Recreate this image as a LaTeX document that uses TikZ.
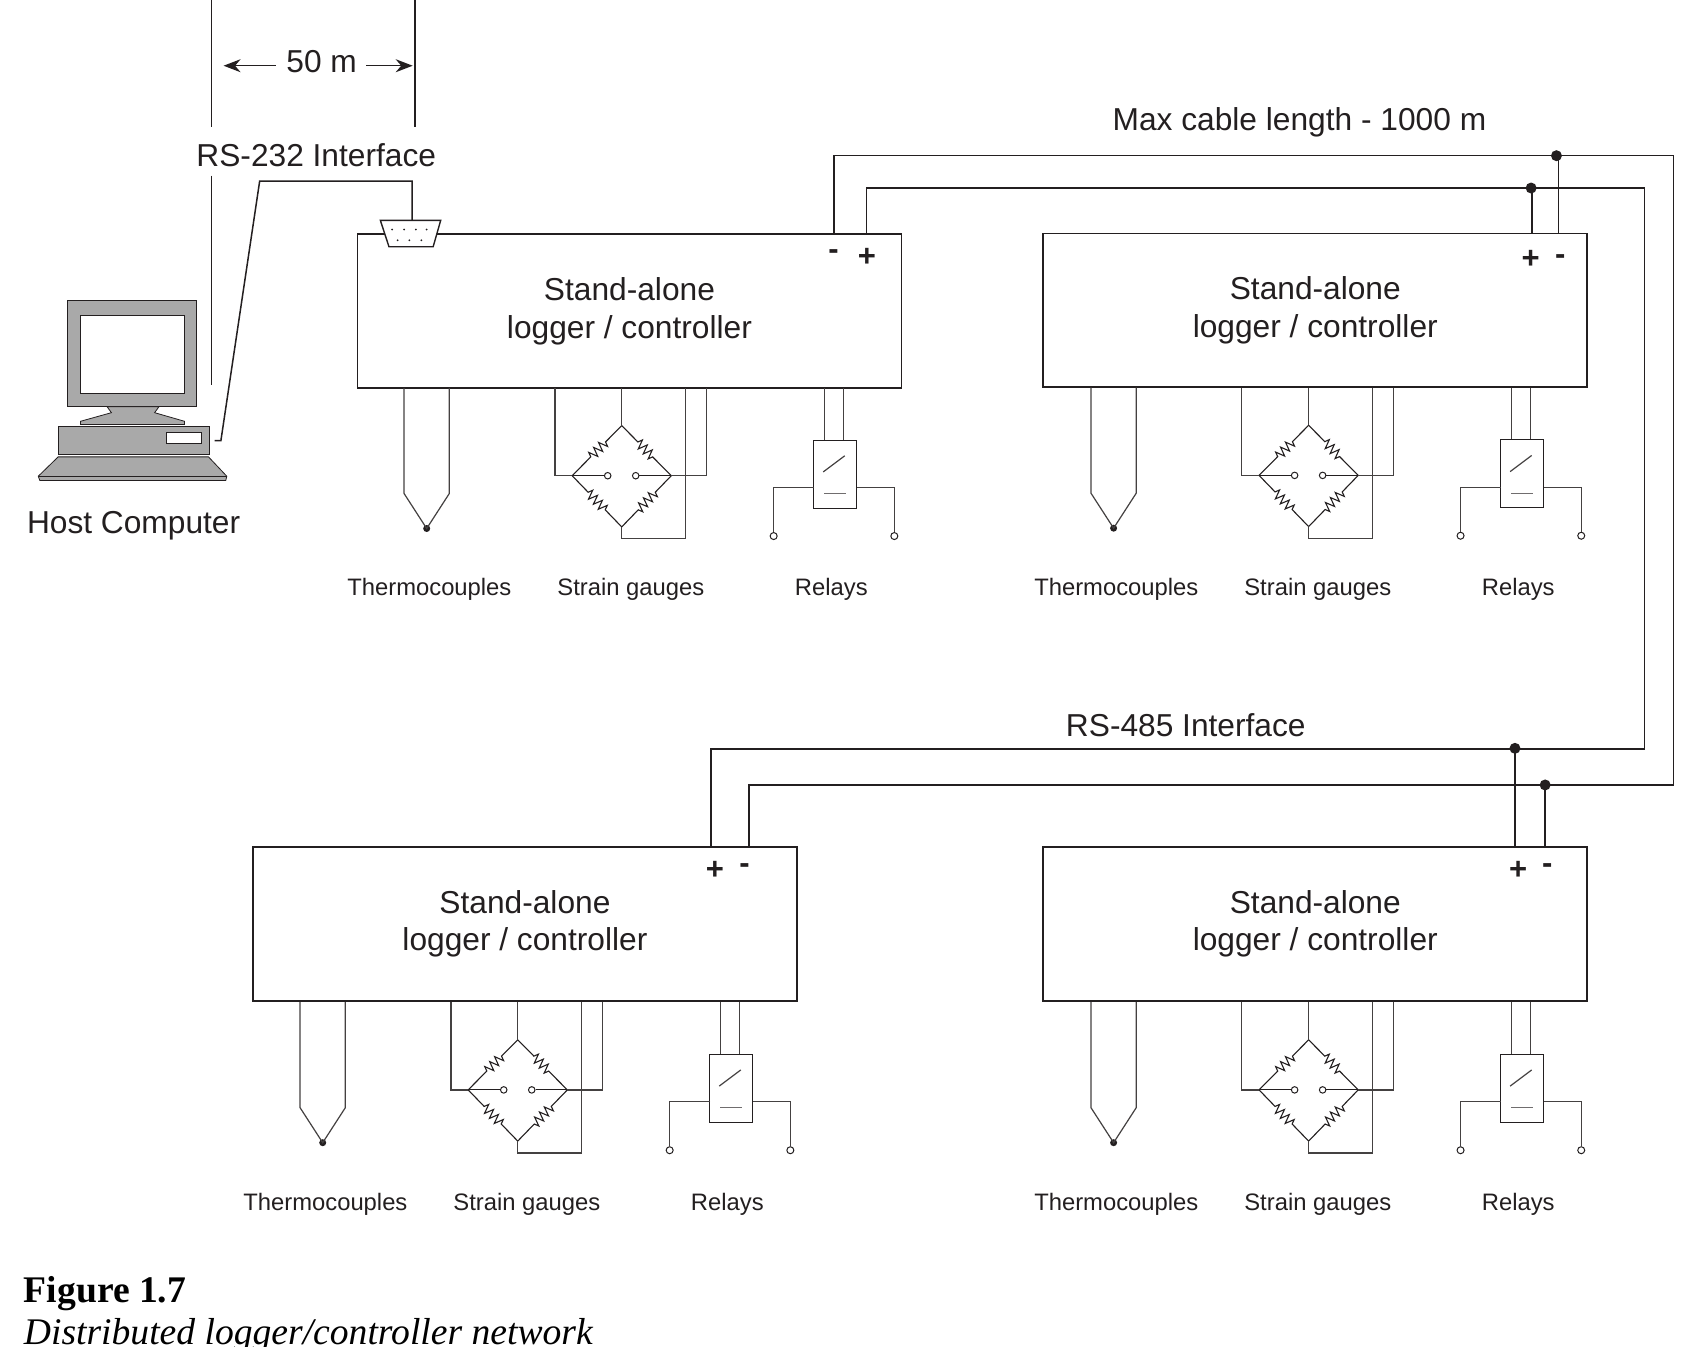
\documentclass[tikz,border=0pt]{standalone}
\usepackage{fontspec}
\setmainfont{Liberation Sans}
\newfontfamily\capfont{Liberation Serif}
\usetikzlibrary{arrows.meta,decorations.pathmorphing}
\definecolor{ink}{HTML}{231F20}
\definecolor{pcgray}{HTML}{A9A9A9}
\tikzset{
  big/.style={font=\fontsize{31.7}{37.8}\selectfont,text=ink,inner sep=0pt,align=center},
  small/.style={font=\fontsize{23.8}{28}\selectfont,text=ink,inner sep=0pt},
  sign/.style={font=\fontsize{31}{31}\selectfont\bfseries,text=ink,inner sep=0pt},
  box/.style={draw=ink,line width=1.6pt,fill=white,inner sep=0pt,minimum width=544pt,minimum height=153.8pt,anchor=north west,align=center,font=\fontsize{31.7}{37.8}\selectfont,text=ink},
  cable/.style={draw=ink,line width=1.5pt},
  wire/.style={draw=ink!85,line width=1.2pt},
  res/.style={draw=ink,line width=1.1pt,decorate,decoration={zigzag,segment length=7pt,amplitude=4.6pt,pre length=23pt,post length=23pt}},
  joint/.style={circle,fill=ink,draw=none,minimum size=11pt,inner sep=0pt},
  tcjoint/.style={circle,fill=ink,draw=none,minimum size=7pt,inner sep=0pt},
  term/.style={circle,draw=ink,fill=white,line width=1pt,minimum size=7pt,inner sep=0pt},
  pc/.style={draw=ink,line width=.8pt,fill=pcgray},
  pcw/.style={draw=ink,line width=.8pt,fill=white},
  dim/.style={draw=ink,line width=1.4pt},
}
\newcommand{\loggerblock}[4]{%
\begin{scope}[shift={(#2,#3)}]
  % thermocouple
  \coordinate (#1ta) at (44,143);
  \coordinate (#1tb) at (86,143);
  \coordinate (#1tc) at (44,241);
  \coordinate (#1td) at (86,241);
  \node[tcjoint] (#1tip) at (65,273.5) {};
  \draw[wire] (#1ta) -- (#1tc) -- (#1tip.center) -- (#1td) -- (#1tb);
  % bridge
  \coordinate (#1gt) at (246,178);
  \coordinate (#1gl) at (200,224.5);
  \coordinate (#1gr) at (292,224.5);
  \coordinate (#1gb) at (246,272);
  \draw[res] (#1gt) -- (#1gl);
  \draw[res] (#1gt) -- (#1gr);
  \draw[res] (#1gl) -- (#1gb);
  \draw[res] (#1gr) -- (#1gb);
  \node[term,minimum size=6.5pt] (#1ci) at (233,224.5) {};
  \node[term,minimum size=6.5pt] (#1cj) at (259,224.5) {};
  \draw[draw=ink,line width=1.1pt] (#1gl) -- (#1ci) (#1cj) -- (#1gr);
  \coordinate (#1w1) at (184,143);
  \coordinate (#1w2) at (246,143);
  \coordinate (#1w3) at (305,143);
  \coordinate (#1w4) at (325,143);
  \coordinate (#1w5) at (305,283);
  \coordinate (#1w6) at (246,283);
  \draw[wire] (#1w1) |- (#1gl);
  \draw[wire] (#1w2) -- (#1gt);
  \draw[wire] (#1w4) |- (#1gr);
  \draw[wire] (#1w3) -- (#1w5) -- (#1w6) -- (#1gb);
  % relay
  \node[draw=ink,line width=1.1pt,fill=white,minimum width=43pt,minimum height=68pt,inner sep=0pt] (#1re) at (444,223) {};
  \coordinate (#1ra) at (434,143);
  \coordinate (#1rb) at (452,143);
  \draw[wire] (#1ra) -- (#1ra|-#1re.north);
  \draw[wire] (#1rb) -- (#1rb|-#1re.north);
  \coordinate (#1sa) at (433,221);
  \coordinate (#1sb) at (453,206);
  \coordinate (#1sc) at (434,241);
  \coordinate (#1sd) at (454,241);
  \draw[wire] (#1sa) -- (#1sb);
  \draw[wire,draw=ink!65] (#1sc) -- (#1sd);
  \node[term] (#1cl) at (387,280.5) {};
  \node[term] (#1cr) at (499,280.5) {};
  \coordinate (#1el) at (424.5,235.5);
  \coordinate (#1er) at (464,235.5);
  \draw[wire] (#1el) -| (#1cl);
  \draw[wire] (#1er) -| (#1cr);
  % labels
  \node[small] (#1l1) at (67.5,#4) {Thermocouples};
  \node[small] (#1l2) at (254.5,#4) {Strain gauges};
  \node[small] (#1l3) at (440.5,#4) {Relays};
\end{scope}
}
\begin{document}
\begin{tikzpicture}[x=1.0775pt,y=-1.0775pt]
\useasboundingbox (0,0) rectangle (1568.45,1250.12);
\fill[white] (0,0) rectangle (1568.45,1250.12);

% boxes
\node[box] (b1) at (331,216.5) {Stand-alone\\logger / controller};
\node[box] (b2) at (967.5,215.8) {Stand-alone\\logger / controller};
\node[box] (b3) at (234,785.3) {Stand-alone\\logger / controller};
\node[box] (b4) at (967.5,785.3) {Stand-alone\\logger / controller};
\loggerblock{a}{331}{217}{329.8}
\loggerblock{c}{968.5}{216.7}{330}
\loggerblock{e}{234.5}{787}{330.5}
\loggerblock{g}{968.5}{787}{330.5}

% terminals
\node[sign] (b1m) at (773.5,236.5) {-};
\node[sign] (b1p) at (804.5,238.5) {+};
\node[sign] (b2p) at (1420.5,240.5) {+};
\node[sign] (b2m) at (1448,240.5) {-};
\node[sign] (b3p) at (663.5,807.5) {+};
\node[sign] (b3m) at (691,806.5) {-};
\node[sign] (b4p) at (1409,807.5) {+};
\node[sign] (b4m) at (1436,806.5) {-};

% network cables
\coordinate (n1) at (774,217);
\coordinate (n2) at (774,144.5);
\coordinate (n3) at (1553,144.5);
\coordinate (n4) at (1553,728.5);
\coordinate (n5) at (695,728.5);
\coordinate (n6) at (695,785.5);
\coordinate (p1) at (804,217);
\coordinate (p2) at (804,174.5);
\coordinate (p3) at (1526,174.5);
\coordinate (p4) at (1526,695);
\coordinate (p5) at (660,695);
\coordinate (p6) at (660,785.5);
\draw[cable] (n1) -- (n2) -- (n3) -- (n4) -- (n5) -- (n6);
\draw[cable] (p1) -- (p2) -- (p3) -- (p4) -- (p5) -- (p6);
\node[joint] (j1) at (1444.5,144.5) {};
\node[joint] (j2) at (1421,174.5) {};
\node[joint] (j3) at (1406,694.5) {};
\node[joint] (j4) at (1434,728.5) {};
\coordinate (j1a) at (1446.5,145);
\coordinate (j2a) at (1422,175);
\coordinate (j1b) at (1446.5,216);
\coordinate (j2b) at (1422,216);
\coordinate (j3b) at (1406,785.5);
\coordinate (j4b) at (1434,785.5);
\draw[cable] (j1a) -- (j1b);
\draw[cable] (j2a) -- (j2b);
\draw[cable] (j3.center) -- (j3b);
\draw[cable] (j4.center) -- (j4b);

% dimension lines
\coordinate (d1) at (196.5,0);
\coordinate (d2) at (196.5,118);
\coordinate (d3) at (196.5,163);
\coordinate (d4) at (196.5,357);
\coordinate (d5) at (385,0);
\coordinate (d6) at (385,118);
\draw[dim] (d1) -- (d2);
\draw[dim] (d3) -- (d4);
\draw[dim] (d5) -- (d6);
\node[big] (fifty) at (298.5,57) {50 m};
\coordinate (a1) at (256,61);
\coordinate (a2) at (207.5,61);
\coordinate (a3) at (340,61);
\coordinate (a4) at (383,61);
\draw[dim,-{Stealth[length=17pt,width=13pt]}] (a1) -- (a2);
\draw[dim,-{Stealth[length=17pt,width=13pt]}] (a3) -- (a4);

% labels
\node[big] (rs232) at (293.5,144) {RS-232 Interface};
\node[big] (maxlen) at (1206,113.5) {Max cable length - 1000 m};
\node[big] (rs485) at (1100.5,673) {RS-485 Interface};
\node[big] (host) at (124,487.5) {Host Computer};

% computer
\draw[pc] (62.3,279) rectangle (182,377.5);
\node[pcw,minimum width=103.5pt,minimum height=77.5pt,inner sep=0pt] (scr) at (123,329) {};
\draw[pc] (99.4,377.5) -- (103.4,383) -- (74.7,391) -- (74.7,394) -- (171.3,394) -- (171.3,391) -- (143.5,383) -- (147.5,377.5) -- cycle;
\node[pc,minimum width=151pt,minimum height=28pt,inner sep=0pt] (case) at (124,408.5) {};
\node[pcw,minimum width=35pt,minimum height=11.5pt,inner sep=0pt] (slot) at (170.5,406.5) {};
\draw[pc] (54,424) -- (193.5,424) -- (210.5,442) -- (209.5,446) -- (37,446) -- (35.5,442) -- cycle;
\draw[draw=ink,line width=.8pt] (35.5,442) -- (210.5,442);

% serial connector and cable
\node[draw=none,inner sep=0pt,minimum size=0pt] (port) at (199,409) {};
\coordinate (s1) at (205,409);
\coordinate (s2) at (241,168);
\coordinate (s3) at (382.5,168);
\coordinate (s4) at (382.5,204.5);
\draw[cable] (port) -- (s1) -- (s2) -- (s3) -- (s4);
\draw[draw=ink,line width=1.4pt,fill=white] (353,204.5) -- (409,204.5) -- (402,229) -- (361,229) -- cycle;
\foreach \px in {364,375,386,396} \fill[ink] (\px,213) circle (1pt);
\foreach \px in {369,380,391} \fill[ink] (\px,223) circle (1pt);

% caption
\node[font=\capfont\bfseries\fontsize{37.6}{37.6}\selectfont,text=black,inner sep=0pt,anchor=base west] (figno) at (22,1209) {Figure 1.7};
\node[font=\capfont\itshape\fontsize{37.6}{37.6}\selectfont,text=black,inner sep=0pt,anchor=base west] (figcap) at (22,1248) {Distributed logger/controller network};
\end{tikzpicture}
\end{document}
